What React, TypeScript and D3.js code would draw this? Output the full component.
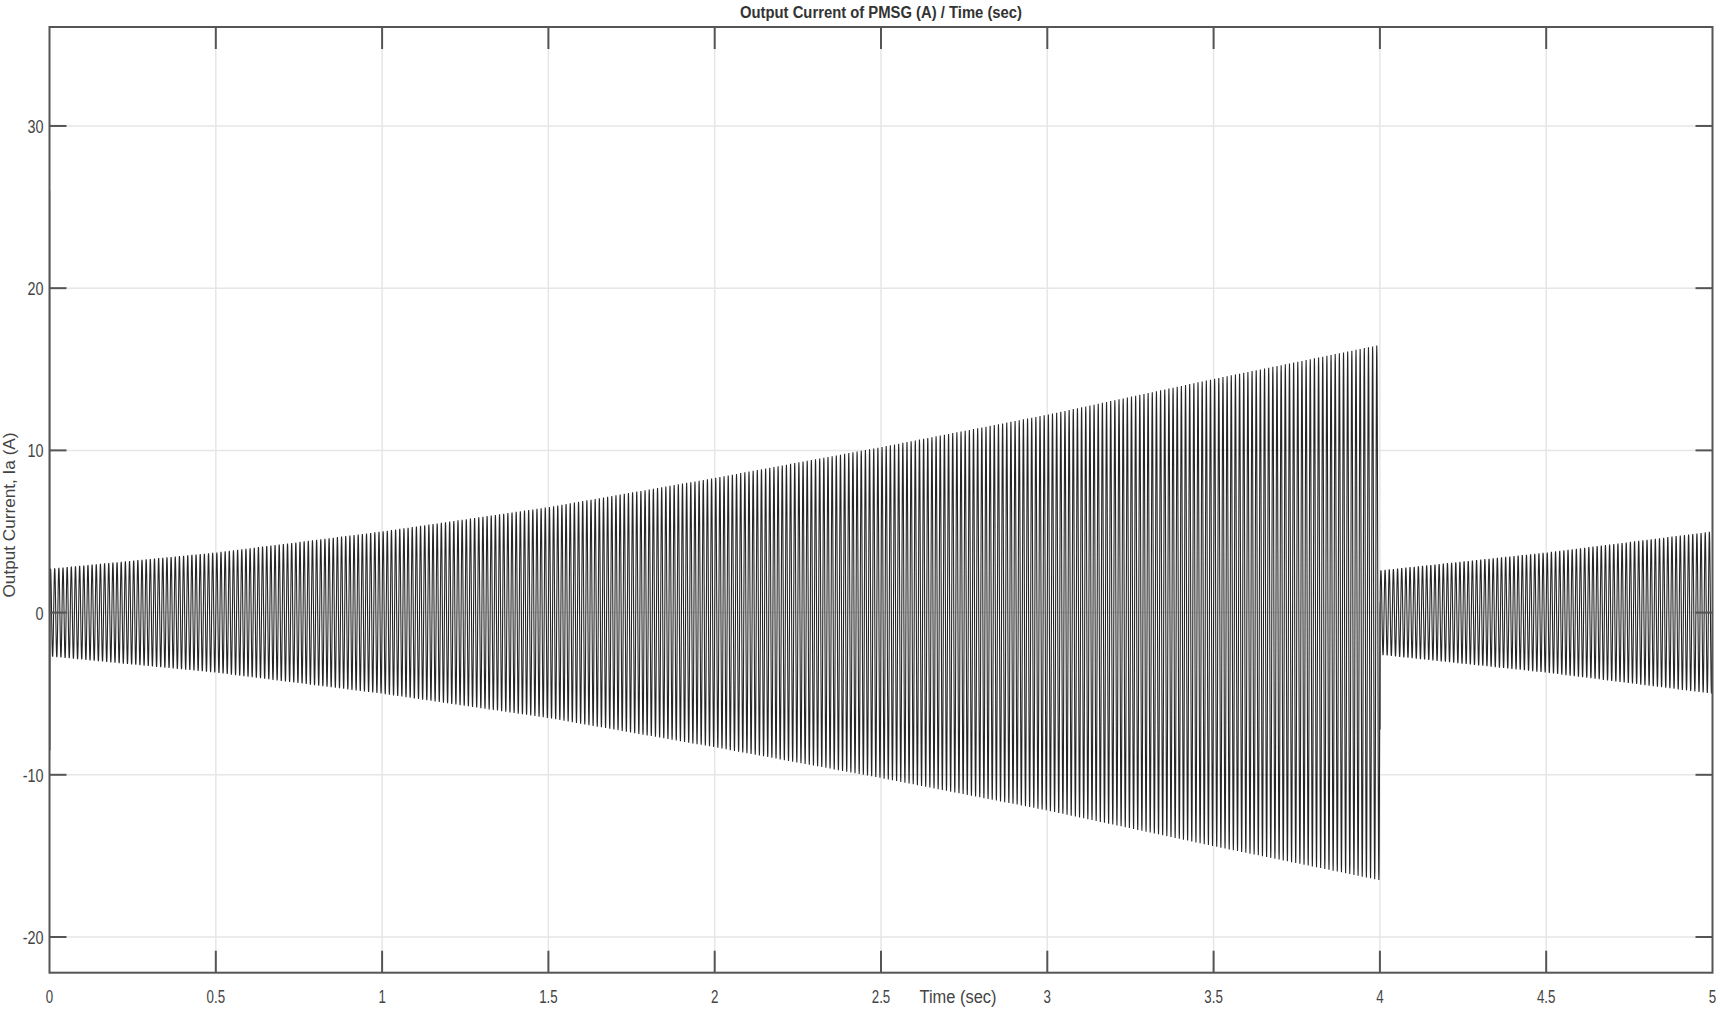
import * as d3 from 'd3'
import React from 'react'

// envelope of the phase current
const envTimeA = [0, 0.5, 1, 1.5, 2, 2.5, 3, 3.5, 4]
const envAmpA = [2.7, 3.7, 5.0, 6.5, 8.3, 10.2, 12.2, 14.4, 16.5]
const envTimeB = [4, 4.5, 5]
const envAmpB = [2.6, 3.7, 5.0]
const freqHz = 80
// start-up and switching transients
const spikeTimes = [0.0004, 0.0012, 4.0006]
const spikeValues = [26, -8.5, -7.2]

const xTicks = [0, 0.5, 1, 1.5, 2, 2.5, 3, 3.5, 4, 4.5, 5]
const yTicks = [-20, -10, 0, 10, 20, 30]
const title = 'Output Current of PMSG (A) / Time (sec)'
const xLabel = 'Time (sec)'
const yLabel = 'Output Current, Ia (A)'

const W = 1720
const H = 1010
const m = { left: 49.5, right: 7.5, top: 27, bottom: 37.3 }
const axisColor = '#555'
const gridColor = '#e6e6e6'
const textColor = '#444'

const x = d3.scaleLinear().domain([0, 5]).range([m.left, W - m.right])
const y = d3.scaleLinear().domain([-22.2, 36.1]).range([H - m.bottom, m.top])
const envA = d3.scaleLinear().domain(envTimeA).range(envAmpA)
const envB = d3.scaleLinear().domain(envTimeB).range(envAmpB)

function buildSignal() {
    const spc = 24
    const n = Math.round(5 * freqHz * spc)
    const pts: [number, number][] = []
    for (let i = 0; i <= n; i++) {
        const t = i / (freqHz * spc)
        const a = t < 4 ? envA(t) : envB(t)
        pts.push([t, a * Math.sin(2 * Math.PI * freqHz * t)])
    }
    spikeTimes.forEach((t, k) => pts.push([t, spikeValues[k]]))
    pts.sort((p, q) => p[0] - q[0])
    return pts
}

const signal = buildSignal()
const line = d3.line<[number, number]>().x(d => x(d[0])).y(d => y(d[1]))

export default function App() {
    const x0 = x.range()[0], x1 = x.range()[1]
    const y0 = y.range()[0], y1 = y.range()[1]
    const font = '"Liberation Sans", Arial, sans-serif'
    return (
        <svg width={W} height={H} viewBox={`0 0 ${W} ${H}`}
            style={{ position: 'absolute', left: 0, top: 0, background: '#fff' }}>
            <rect x={0} y={0} width={W} height={H} fill="#fff" />
            {/* grid */}
            {xTicks.slice(1, -1).map(t =>
                <line key={'gx' + t} x1={x(t)} x2={x(t)} y1={y1} y2={y0} stroke={gridColor} strokeWidth={1.5} />)}
            {yTicks.map(t =>
                <line key={'gy' + t} x1={x0} x2={x1} y1={y(t)} y2={y(t)} stroke={gridColor} strokeWidth={1.5} />)}
            {/* signal */}
            <path d={line(signal) || ''} fill="none" stroke="#262626" strokeWidth={1.1} />
            {/* ticks */}
            {xTicks.slice(1, -1).map(t => (
                <g key={'tx' + t} stroke={axisColor} strokeWidth={2}>
                    <line x1={x(t)} x2={x(t)} y1={y0} y2={y0 - 22} />
                    <line x1={x(t)} x2={x(t)} y1={y1} y2={y1 + 22} />
                </g>
            ))}
            {yTicks.map(t => (
                <g key={'ty' + t} stroke={axisColor} strokeWidth={2}>
                    <line x1={x0} x2={x0 + 17} y1={y(t)} y2={y(t)} />
                    <line x1={x1} x2={x1 - 17} y1={y(t)} y2={y(t)} />
                </g>
            ))}
            {/* box */}
            <rect x={x0} y={y1} width={x1 - x0} height={y0 - y1} fill="none" stroke={axisColor} strokeWidth={2} />
            {/* tick labels */}
            {xTicks.map(t => (
                <g key={'lx' + t} transform={`translate(${x(t)},1002.5) scale(0.74,1)`}>
                    <text textAnchor="middle" fontFamily={font} fontSize={18} fill={textColor}>{String(t)}</text>
                </g>
            ))}
            {yTicks.map(t => (
                <g key={'ly' + t} transform={`translate(${x0 - 6},${y(t) + 7}) scale(0.8,1)`}>
                    <text textAnchor="end" fontFamily={font} fontSize={18} fill={textColor}>{String(t)}</text>
                </g>
            ))}
            {/* titles */}
            <text x={881} y={17.5} textAnchor="middle" fontFamily={font} fontSize={16} fontWeight="bold"
                fill="#333" textLength={282} lengthAdjust="spacingAndGlyphs">{title}</text>
            <text x={958} y={1002.5} textAnchor="middle" fontFamily={font} fontSize={18}
                fill={textColor} textLength={77} lengthAdjust="spacingAndGlyphs">{xLabel}</text>
            <text transform="translate(15,515) rotate(-90)" textAnchor="middle" fontFamily={font} fontSize={17}
                fill={textColor} textLength={165} lengthAdjust="spacingAndGlyphs">{yLabel}</text>
        </svg>
    )
}
